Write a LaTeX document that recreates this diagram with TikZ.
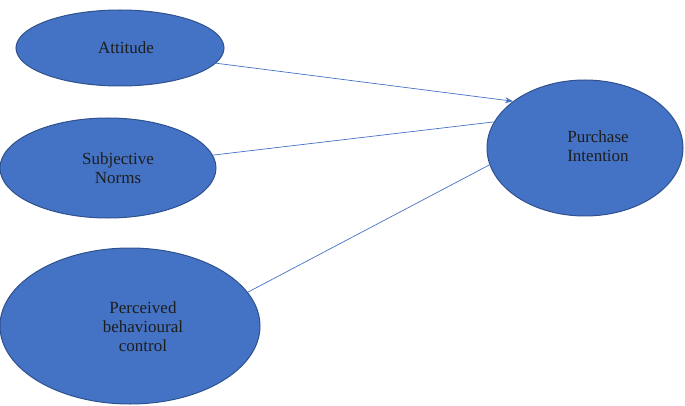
\documentclass[tikz,border=0pt]{standalone}
\usepackage{fontspec}
\setmainfont{Liberation Serif}
\usetikzlibrary{shapes.geometric,arrows.meta}
\definecolor{fillb}{HTML}{4472C4}
\definecolor{edgeb}{HTML}{2F528F}
\definecolor{txt}{HTML}{1E1E1E}
\begin{document}
\begin{tikzpicture}[x=1pt,y=-1pt,
  el/.style={ellipse,fill=fillb,draw=edgeb,line width=1pt,inner sep=0pt,text=txt,font=\fontsize{17}{19}\selectfont,align=center},
  con/.style={draw=fillb,line width=0.7pt}]
\useasboundingbox (0,0) rectangle (685,406);
\node[el,minimum width=208pt,minimum height=76pt] (a) at (120,48) {};
\node[txt,font=\fontsize{17}{19}\selectfont] at (126,48) {Attitude};
\node[el,minimum width=216pt,minimum height=100pt] (s) at (108,168) {};
\node[txt,font=\fontsize{17}{19}\selectfont,align=center] at (118,168) {Subjective\\Norms};
\node[el,minimum width=260pt,minimum height=156pt] (c) at (130,326) {};
\node[txt,font=\fontsize{17}{19}\selectfont,align=center] at (143,327) {Perceived\\behavioural\\control};
\node[el,minimum width=196pt,minimum height=136pt] (p) at (585,148) {};
\node[txt,font=\fontsize{17}{19}\selectfont,align=center] at (598,146) {Purchase\\Intention};
\draw[con,-{Stealth[length=8pt,width=6pt]}] (a.-9.5) -- (p.147);
\draw[con] (s.7) -- (p.164);
\draw[con] (c.16) -- (p.190);
\end{tikzpicture}
\end{document}
